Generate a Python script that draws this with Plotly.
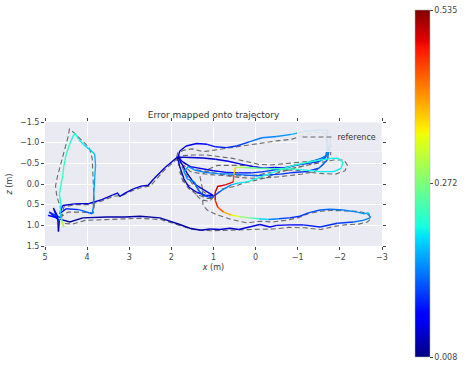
import numpy as np
import plotly.graph_objects as go

# ---------------- data ----------------
# estimated trajectory: x (m), z (m), error (m)
est_x = [4.70, 4.93, 4.72, 4.80, 4.70, 4.68, 4.66, 4.90, 4.62, 4.55, 4.60, 4.64,
         4.62, 4.66, 4.62, 4.58, 4.55, 4.50, 4.42, 4.34, 4.28, 4.20, 4.08, 3.92, 3.82, 3.80, 3.82, 3.84, 3.85, 3.88, 4.20, 4.50, 4.65,
         4.58, 4.30, 3.95, 3.65, 3.40, 3.28, 3.22, 3.10, 2.90, 2.72, 2.55, 2.42, 2.30, 2.15, 2.00, 1.86,
         1.80, 1.70, 1.58, 1.40, 1.20, 1.00, 1.22, 1.45, 1.62, 1.76, 1.84,
         1.80, 1.65, 1.40, 1.15, 0.95, 0.70, 0.45, 0.15, -0.15, -0.50, -0.85, -1.15, -1.45, -1.72,
         -1.68, -1.70, -1.66, -1.52,
         -1.25, -0.95, -0.70, -0.45, -0.20, 0.05, 0.35, 0.65, 0.95, 1.25, 1.55, 1.84,
         1.75, 1.55, 1.30, 1.00, 0.70, 0.40, 0.10, -0.20, -0.50, -0.80, -1.10, -1.35, -1.55, -1.70,
         -1.76, -1.78, -1.74, -1.70, -1.50, -1.20, -0.90, -0.60, -0.30, 0.00, 0.30, 0.60, 0.90, 1.20, 1.45,
         1.60, 1.70, 1.62, 1.45, 1.38, 1.25, 1.05,
         0.80, 0.58, 0.42, 0.20, -0.04, -0.27, -0.58, -0.90, -1.20, -1.53, -1.80, -1.97, -2.07, -2.03,
         -1.85, -1.55, -1.25, -0.95, -0.65, -0.35, -0.05, 0.25, 0.48,
         0.52, 0.53, 0.72, 0.90, 0.96, 0.96, 0.90, 0.76, 0.58, 0.38, 0.15, -0.08, -0.30, -0.55,
         -0.80, -1.05, -1.25, -1.53, -1.77, -2.08, -2.41, -2.58, -2.68, -2.72, -2.55, -2.32, -1.94,
         -1.53, -1.13, -0.82, -0.50, -0.34, -0.10, 0.13, 0.40, 0.61, 0.85, 1.08, 1.30, 1.56, 1.80,
         1.96, 2.27, 2.74, 3.10, 3.53, 4.10, 4.41, 4.65]
est_z = [0.80, 0.76, 0.82, 0.58, 0.78, 1.15, 0.88, 0.68, 0.82, 1.05, 0.90, 0.70,
         0.50, 0.25, 0.02, -0.20, -0.45, -0.70, -0.95, -1.15, -1.22, -1.08, -0.95, -0.82, -0.72, -0.45, -0.15, 0.20, 0.55, 0.72, 0.62, 0.60, 0.72,
         0.52, 0.48, 0.47, 0.38, 0.27, 0.22, 0.30, 0.22, 0.12, 0.05, 0.03, -0.12, -0.25, -0.40, -0.52, -0.65,
         -0.42, -0.12, 0.08, 0.20, 0.27, 0.28, 0.15, 0.00, -0.25, -0.50, -0.65,
         -0.80, -0.92, -0.98, -0.96, -0.90, -0.88, -0.92, -1.02, -1.12, -1.15, -1.20, -1.27, -1.30, -1.30,
         -1.10, -0.85, -0.65, -0.55,
         -0.50, -0.46, -0.38, -0.40, -0.38, -0.42, -0.48, -0.55, -0.60, -0.63, -0.64, -0.65,
         -0.55, -0.42, -0.38, -0.32, -0.28, -0.27, -0.27, -0.30, -0.35, -0.42, -0.48, -0.55, -0.62, -0.70,
         -0.95, -1.10, -0.80, -0.58, -0.38, -0.30, -0.28, -0.24, -0.22, -0.20, -0.22, -0.24, -0.25, -0.28, -0.34,
         -0.42, -0.30, -0.12, -0.05, 0.12, 0.28, 0.33,
         0.15, 0.02, -0.02, -0.05, -0.14, -0.22, -0.34, -0.45, -0.52, -0.58, -0.62, -0.62, -0.52, -0.38,
         -0.30, -0.30, -0.33, -0.36, -0.37, -0.37, -0.38, -0.40, -0.40,
         -0.22, -0.05, 0.02, 0.06, 0.20, 0.39, 0.56, 0.68, 0.75, 0.79, 0.82, 0.84, 0.86, 0.84,
         0.82, 0.78, 0.70, 0.63, 0.61, 0.63, 0.68, 0.72, 0.70, 0.82, 0.88, 0.92, 0.95,
         1.04, 0.99, 0.99, 1.00, 1.04, 0.98, 1.04, 1.10, 1.07, 1.10, 1.09, 1.12, 1.07, 0.98,
         0.92, 0.82, 0.78, 0.80, 0.80, 0.82, 0.92, 0.85]
est_err = [0.05, 0.09, 0.05, 0.08, 0.04, 0.02, 0.05, 0.11, 0.08, 0.42, 0.20, 0.18,
           0.21, 0.22, 0.22, 0.23, 0.23, 0.22, 0.22, 0.21, 0.21, 0.20, 0.19, 0.18, 0.17, 0.17, 0.16, 0.16, 0.15, 0.14, 0.11, 0.08, 0.06,
           0.05, 0.04, 0.04, 0.04, 0.05, 0.05, 0.05, 0.05, 0.05, 0.04, 0.04, 0.05, 0.05, 0.05, 0.04, 0.04,
           0.05, 0.05, 0.05, 0.06, 0.06, 0.07, 0.05, 0.05, 0.04, 0.04, 0.04,
           0.05, 0.06, 0.06, 0.07, 0.08, 0.09, 0.10, 0.12, 0.14, 0.15, 0.16, 0.17, 0.17, 0.16,
           0.15, 0.14, 0.12, 0.10,
           0.09, 0.08, 0.07, 0.07, 0.08, 0.07, 0.06, 0.05, 0.05, 0.04, 0.04, 0.04,
           0.05, 0.06, 0.06, 0.07, 0.07, 0.08, 0.09, 0.10, 0.11, 0.12, 0.12, 0.12, 0.13, 0.14,
           0.15, 0.16, 0.14, 0.13, 0.11, 0.10, 0.10, 0.10, 0.11, 0.12, 0.13, 0.14, 0.14, 0.14, 0.15,
           0.15, 0.16, 0.15, 0.14, 0.12, 0.11, 0.10,
           0.13, 0.16, 0.19, 0.20, 0.21, 0.21, 0.22, 0.22, 0.22, 0.21, 0.20, 0.20, 0.21, 0.20,
           0.19, 0.20, 0.21, 0.22, 0.23, 0.24, 0.25, 0.28, 0.33,
           0.42, 0.47, 0.49, 0.50, 0.50, 0.49, 0.46, 0.42, 0.36, 0.31, 0.26, 0.21, 0.16, 0.12,
           0.10, 0.10, 0.11, 0.12, 0.13, 0.14, 0.15, 0.16, 0.16, 0.15, 0.14, 0.12, 0.10,
           0.09, 0.08, 0.07, 0.07, 0.06, 0.06, 0.05, 0.05, 0.04, 0.04, 0.04, 0.03, 0.03, 0.03,
           0.03, 0.03, 0.03, 0.03, 0.03, 0.02, 0.02, 0.01]

# reference trajectory: x (m), z (m)
ref_x = [4.60, 4.64, 4.72, 4.75, 4.70, 4.62, 4.52, 4.45, 4.42, 4.32, 4.12, 3.95, 3.88, 3.86, 3.85, 3.83, 3.85, 4.15, 4.45, 4.60,
         4.55, 4.25, 3.95, 3.65, 3.38, 3.15, 2.90, 2.70, 2.50, 2.35, 2.15, 1.98, 1.88,
         1.80, 1.72, 1.60, 1.40, 1.15, 1.00, 1.25, 1.50, 1.68, 1.80, 1.88,
         1.85, 1.70, 1.50, 1.25, 1.00, 0.75, 0.45, 0.15, -0.20, -0.55, -0.85, -1.15, -1.45, -1.65, -1.72, -1.72, -1.62,
         -1.30, -0.95, -0.65, -0.35, -0.05, 0.25, 0.55, 0.85, 1.15, 1.50, 1.82,
         1.70, 1.45, 1.15, 0.85, 0.55, 0.25, -0.05, -0.35, -0.65, -0.95, -1.25, -1.50, -1.68, -1.80, -1.78, -1.62,
         -1.40, -1.10, -0.80, -0.50, -0.20, 0.10, 0.40, 0.70, 1.00, 1.30, 1.55,
         1.70, 1.80, 1.72, 1.55, 1.45, 1.30, 1.10,
         0.80, 0.50, 0.30, 0.05, -0.25, -0.55, -0.90, -1.20, -1.55, -1.85, -2.10, -2.18, -2.12, -1.90, -1.60,
         -1.30, -1.00, -0.70, -0.40, -0.10, 0.20, 0.55, 0.90,
         1.15, 1.32, 1.27, 1.25, 1.25, 1.15, 0.91, 0.53, 0.20, -0.11, -0.40,
         -0.70, -1.00, -1.25, -1.55, -1.80, -2.10, -2.40, -2.62, -2.75, -2.65, -2.45, -2.20, -1.90,
         -1.55, -1.15, -0.80, -0.40, 0.10, 0.60, 1.05, 1.50, 1.90, 2.25, 2.75, 3.50, 4.05, 4.35, 4.60]
ref_z = [0.85, 0.55, 0.30, 0.05, -0.20, -0.50, -0.85, -1.15, -1.33, -1.25, -1.05, -0.88, -0.62, -0.25, 0.15, 0.50, 0.70, 0.68, 0.68, 0.78,
         0.55, 0.50, 0.50, 0.41, 0.30, 0.27, 0.15, 0.08, 0.05, -0.12, -0.35, -0.50, -0.60,
         -0.40, -0.10, 0.10, 0.25, 0.35, 0.35, 0.18, 0.00, -0.28, -0.52, -0.62,
         -0.75, -0.82, -0.85, -0.78, -0.82, -0.85, -0.90, -0.95, -1.00, -1.05, -1.08, -1.18, -1.25, -1.22, -1.00, -0.75, -0.58,
         -0.55, -0.52, -0.48, -0.46, -0.48, -0.55, -0.62, -0.66, -0.70, -0.70, -0.68,
         -0.50, -0.35, -0.30, -0.24, -0.20, -0.20, -0.22, -0.27, -0.33, -0.40, -0.46, -0.55, -0.65, -0.95, -0.70, -0.48,
         -0.30, -0.24, -0.20, -0.17, -0.15, -0.14, -0.16, -0.20, -0.22, -0.25, -0.30,
         -0.45, -0.28, -0.05, 0.05, 0.22, 0.38, 0.42,
         0.12, 0.06, -0.02, -0.08, -0.15, -0.28, -0.38, -0.45, -0.52, -0.58, -0.58, -0.45, -0.32, -0.24, -0.25,
         -0.28, -0.33, -0.35, -0.36, -0.40, -0.45, -0.45, -0.45,
         -0.35, -0.17, 0.07, 0.32, 0.51, 0.63, 0.75, 0.87, 0.94, 0.90, 0.92,
         0.88, 0.82, 0.72, 0.66, 0.64, 0.65, 0.66, 0.70, 0.82, 0.92, 0.97, 0.98, 1.02,
         1.10, 1.06, 1.05, 1.09, 1.10, 1.12, 1.13, 1.10, 0.97, 0.86, 0.83, 0.85, 0.88, 0.97, 0.95]

err_min, err_max = 0.008, 0.535
cbar_ticks = [0.008, 0.272, 0.535]
x_ticks = [5, 4, 3, 2, 1, 0, -1, -2, -3]
z_ticks = [-1.5, -1.0, -0.5, 0.0, 0.5, 1.0, 1.5]


# ---------------- matplotlib-like "jet" ----------------
def jet(v):
    v = float(np.clip(v, 0, 1))
    r = np.interp(v, [0, 0.35, 0.66, 0.89, 1], [0, 0, 1, 1, 0.5])
    g = np.interp(v, [0, 0.125, 0.375, 0.64, 0.91, 1], [0, 0, 1, 1, 0, 0])
    b = np.interp(v, [0, 0.11, 0.34, 0.65, 1], [0.5, 1, 1, 0, 0])
    return "rgb(%d,%d,%d)" % (round(r * 255), round(g * 255), round(b * 255))


stops = sorted(set([0, 0.11, 0.125, 0.34, 0.35, 0.375, 0.5, 0.64, 0.65, 0.66, 0.89, 0.91, 1]))
jet_scale = [[s, jet(s)] for s in stops]

fig = go.Figure()

# reference (dashed)
fig.add_trace(go.Scatter(
    x=ref_x, y=ref_z, mode="lines", name="reference",
    line=dict(color="rgb(105,105,105)", width=1.1, dash="5px,3px"),
    hoverinfo="skip", showlegend=True))

# colored estimate: consecutive segments grouped by color bin
NB = 60
ex, ez, ee = np.array(est_x), np.array(est_z), np.array(est_err)
bins = []
for i in range(len(ex) - 1):
    v = ((ee[i] + ee[i + 1]) / 2 - err_min) / (err_max - err_min)
    bins.append(int(round(np.clip(v, 0, 1) * (NB - 1))))

groups = {}
i = 0
while i < len(bins):
    j = i
    while j + 1 < len(bins) and bins[j + 1] == bins[i]:
        j += 1
    b = bins[i]
    gx, gz = groups.setdefault(b, ([], []))
    gx.extend(list(ex[i:j + 2]) + [None])
    gz.extend(list(ez[i:j + 2]) + [None])
    i = j + 1

for b in sorted(groups):
    gx, gz = groups[b]
    fig.add_trace(go.Scatter(
        x=gx, y=gz, mode="lines", showlegend=False, hoverinfo="skip",
        line=dict(color=jet(b / (NB - 1)), width=1.4),
        connectgaps=False))

# colorbar carrier
fig.add_trace(go.Scatter(
    x=[est_x[0]], y=[est_z[0]], mode="markers", showlegend=False, hoverinfo="skip",
    marker=dict(size=0.1, opacity=0, color=[err_min], cmin=err_min, cmax=err_max,
                colorscale=jet_scale, showscale=True,
                colorbar=dict(
                    x=1.098, xanchor="left", xref="paper",
                    y=0.504, yanchor="middle", yref="paper",
                    xpad=0, ypad=0,
                    len=347, lenmode="pixels", thickness=15, thicknessmode="pixels",
                    outlinewidth=0.5, outlinecolor="rgb(180,180,180)",
                    tickvals=cbar_ticks, ticktext=[f"{t:.3f}" for t in cbar_ticks],
                    ticklabeloverflow="allow",
                    ticks="outside", ticklen=3, tickcolor="#444",
                    tickfont=dict(family="DejaVu Sans", size=8, color="#444")))))

axis_common = dict(
    showgrid=True, gridcolor="white", gridwidth=1, zeroline=False, showline=False,
    ticks="outside", ticklen=3, tickcolor="#444", mirror="ticks", automargin=False,
    tickfont=dict(family="DejaVu Sans", size=8, color="#444"))

fig.update_layout(
    width=474, height=368,
    margin=dict(l=45, r=92, t=122, b=122, autoexpand=False),
    paper_bgcolor="white", plot_bgcolor="#EAEAF2",
    title=dict(text="Error mapped onto trajectory", x=0.5, xref="paper",
               y=1 - 115 / 368, yref="container", yanchor="middle",
               font=dict(family="DejaVu Sans", size=9, color="#333")),
    xaxis=dict(range=[5, -3], tickvals=x_ticks, tickformat="d",
               title=dict(text="<i>x</i> (m)", standoff=3,
                          font=dict(family="DejaVu Sans", size=8, color="#333")),
               **axis_common),
    yaxis=dict(range=[1.5, -1.5], tickvals=z_ticks, tickformat=".1f",
               title=dict(text="<i>z</i> (m)", standoff=6,
                          font=dict(family="DejaVu Sans", size=8, color="#333")),
               **axis_common),
    legend=dict(x=1, y=1, xanchor="right", yanchor="top", xref="paper", yref="paper",
                bgcolor="rgba(234,234,242,0.9)", bordercolor="rgba(255,255,255,0.8)",
                borderwidth=0.5, font=dict(family="DejaVu Sans", size=8, color="#333"),
                itemwidth=30, tracegroupgap=0),
    showlegend=True,
)

# remove the page's default 8px body margin so the figure fills the window exactly
fig.write_html("out.html", config={"displayModeBar": False},
               post_script="document.body.style.margin='0px';")
